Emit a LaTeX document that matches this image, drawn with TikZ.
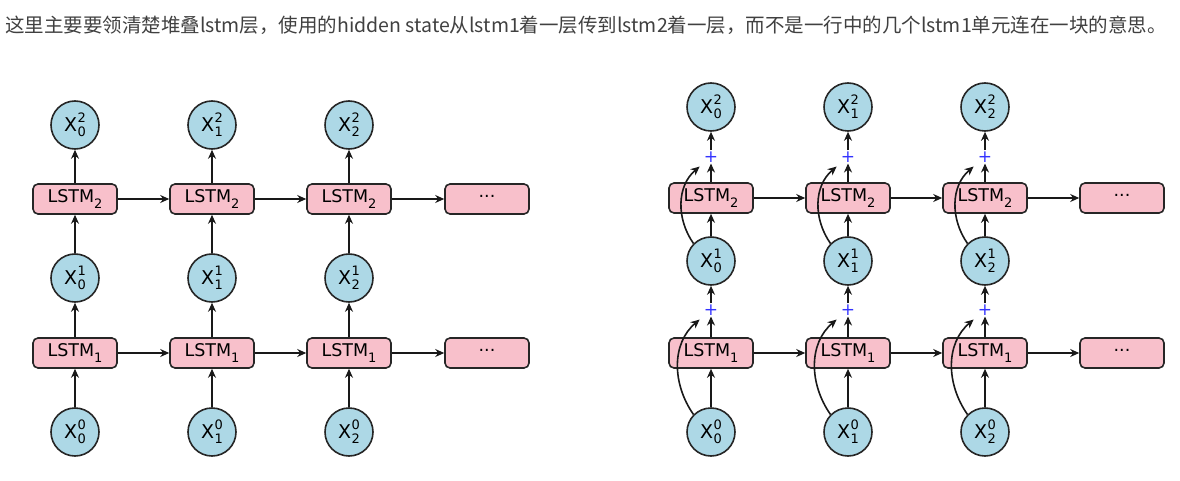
\documentclass[tikz,border=0pt]{standalone}
\usepackage{fontspec}
\setmainfont{DejaVu Sans}
\newfontfamily\cjk{Noto Sans CJK SC}
\usetikzlibrary{arrows.meta}
\newcommand\xl[2]{X\kern0.5pt\rlap{\raisebox{0.45em}{\fontsize{13}{13}\selectfont #1}}\raisebox{-0.3em}{\fontsize{13}{13}\selectfont #2}}
\newcommand\lstm[1]{LSTM\raisebox{-0.3em}{\fontsize{13}{13}\selectfont #1}}
\begin{document}
\begin{tikzpicture}[x=1pt,y=-1pt,
  circ/.style={circle,draw=black!85,line width=1.6pt,fill=lb,minimum size=48pt,inner sep=0pt,font=\fontsize{19}{19}\selectfont},
  box/.style={rectangle,rounded corners=5pt,draw=black!85,line width=1.6pt,fill=pk,minimum width=84pt,minimum height=30pt,inner sep=0pt,font=\fontsize{17.5}{17.5}\selectfont},
  plus/.style={text=blue!80,inner sep=1pt,font=\fontsize{17}{17}\selectfont},
  ar/.style={-{Stealth[length=9pt,width=8pt]},line width=1.6pt,black!90}]
\definecolor{lb}{RGB}{173,216,230}
\definecolor{pk}{RGB}{248,192,203}
\useasboundingbox (0,0) rectangle (1180,481);
\node[anchor=west,text=black!75,font=\cjk\fontsize{19.5}{19}\selectfont,inner sep=0pt] (hdr) at (5,25) {这里主要要领清楚堆叠lstm层，使用的hidden state从lstm1着一层传到lstm2着一层，而不是一行中的几个lstm1单元连在一块的意思。};
% left
\foreach \i/\x in {0/75,1/212,2/349}{
  \node[circ] (a0\i) at (\x,432) {\xl{0}{\i}};
  \node[box] (aL1\i) at (\x,353) {\lstm{1}};
  \node[circ] (a1\i) at (\x,278) {\xl{1}{\i}};
  \node[box] (aL2\i) at (\x,199) {\lstm{2}};
  \node[circ] (a2\i) at (\x,125) {\xl{2}{\i}};
  \draw[ar] (a0\i) -- (aL1\i);
  \draw[ar] (aL1\i) -- (a1\i);
  \draw[ar] (a1\i) -- (aL2\i);
  \draw[ar] (aL2\i) -- (a2\i);
}
\node[box] (aL1d) at (487,353) {···};
\node[box] (aL2d) at (487,199) {···};
\draw[ar] (aL10) -- (aL11); \draw[ar] (aL11) -- (aL12); \draw[ar] (aL12) -- (aL1d);
\draw[ar] (aL20) -- (aL21); \draw[ar] (aL21) -- (aL22); \draw[ar] (aL22) -- (aL2d);
% right
\foreach \i/\x in {0/711,1/848,2/985}{
  \node[circ] (b0\i) at (\x,432) {\xl{0}{\i}};
  \node[box] (bL1\i) at (\x,353) {\lstm{1}};
  \node[plus] (bp1\i) at (\x,310) {+};
  \node[circ] (b1\i) at (\x,261) {\xl{1}{\i}};
  \node[box] (bL2\i) at (\x,198) {\lstm{2}};
  \node[plus] (bp2\i) at (\x,157) {+};
  \node[circ] (b2\i) at (\x,107) {\xl{2}{\i}};
  \draw[ar] (b0\i) -- (bL1\i);
  \draw[ar] (bL1\i) -- (bp1\i);
  \draw[ar] (bp1\i) -- (b1\i);
  \draw[ar] (b1\i) -- (bL2\i);
  \draw[ar] (bL2\i) -- (bp2\i);
  \draw[ar] (bp2\i) -- (b2\i);
  \draw[ar] (b0\i.135) to[out=125,in=-140] ([xshift=-3pt,yshift=-3pt]bp1\i.south west);
  \draw[ar] (b1\i.135) to[out=125,in=-140] ([xshift=-3pt,yshift=-3pt]bp2\i.south west);
}
\node[box] (bL1d) at (1122,353) {···};
\node[box] (bL2d) at (1122,198) {···};
\draw[ar] (bL10) -- (bL11); \draw[ar] (bL11) -- (bL12); \draw[ar] (bL12) -- (bL1d);
\draw[ar] (bL20) -- (bL21); \draw[ar] (bL21) -- (bL22); \draw[ar] (bL22) -- (bL2d);
\end{tikzpicture}
\end{document}
